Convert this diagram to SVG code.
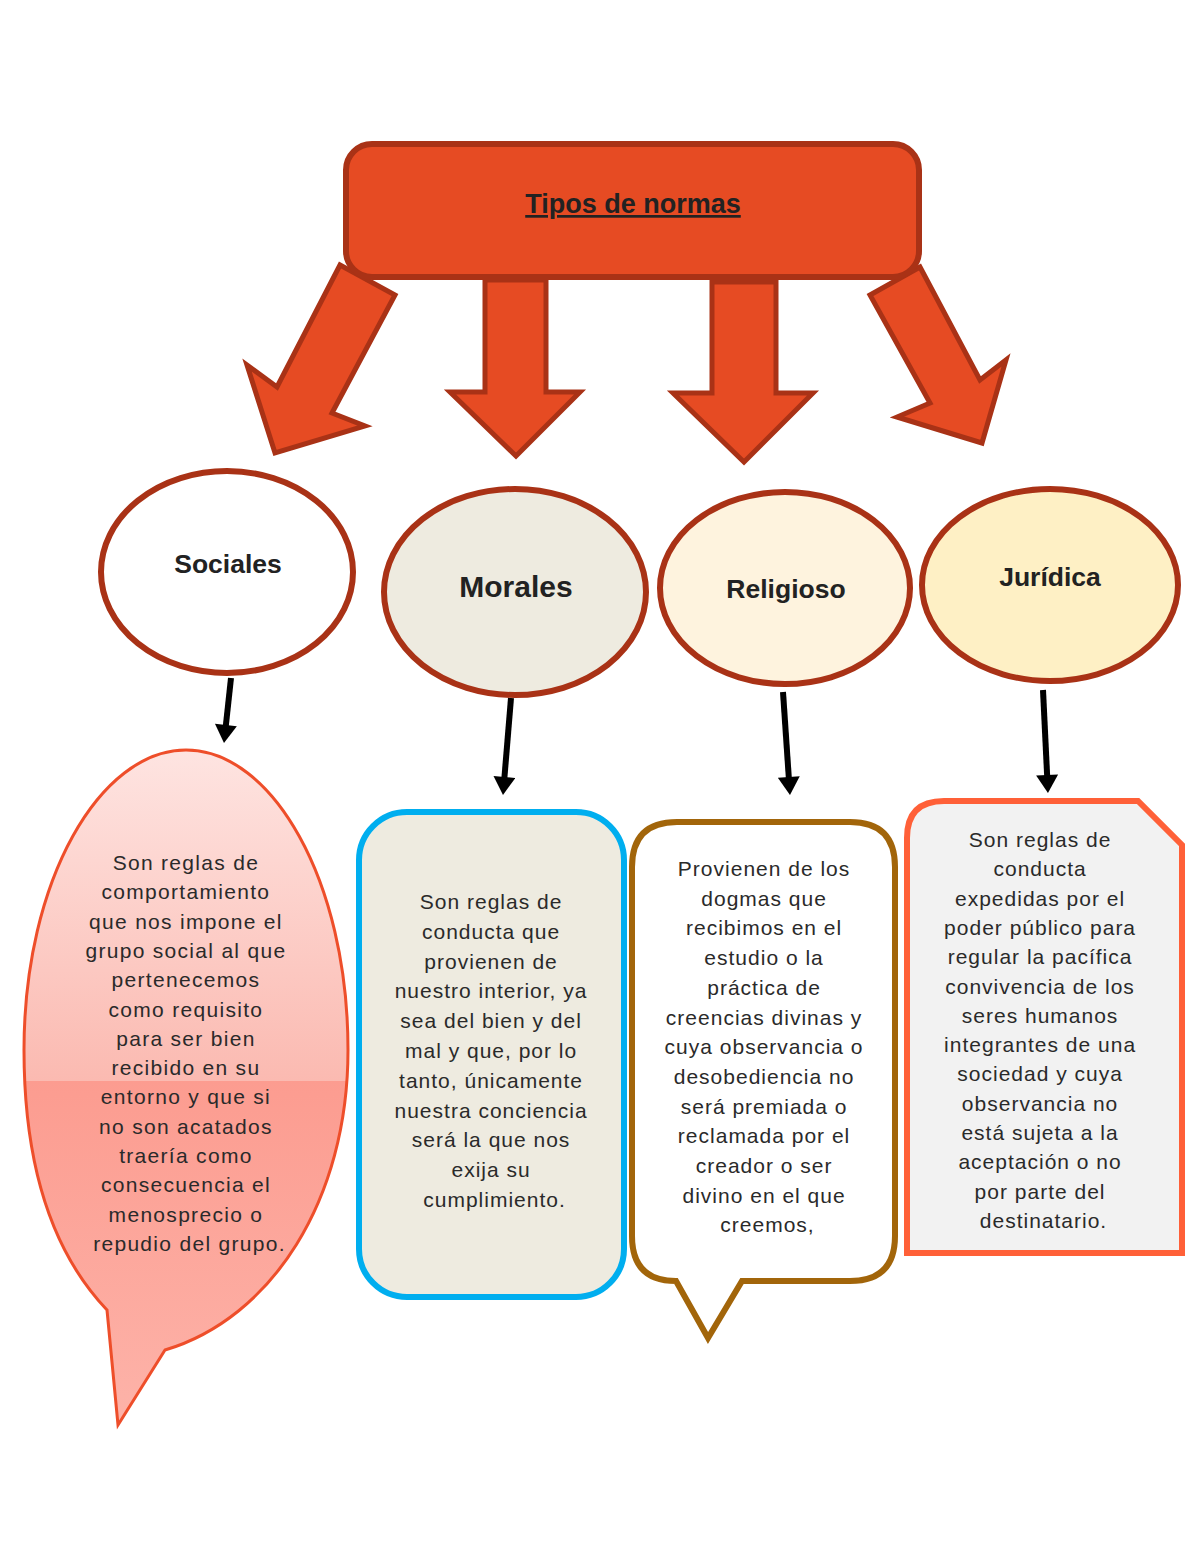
<svg xmlns="http://www.w3.org/2000/svg" width="1200" height="1553" viewBox="0 0 1200 1553">
<defs>
<style>
.blk{fill:#E64B23;stroke:#A93216;stroke-width:5;stroke-linejoin:miter}
.ell{stroke:#A93216;stroke-width:6}
.lab{font-family:"Liberation Sans",Arial,Helvetica,sans-serif;font-weight:bold;fill:#222;text-anchor:middle}
.body{font-family:"Liberation Sans",Arial,Helvetica,sans-serif;font-size:21px;fill:#2a2a2a;text-anchor:middle;letter-spacing:1px}
.con{stroke:#000;stroke-width:6;fill:none}
</style>
<marker id="ah" markerUnits="userSpaceOnUse" markerWidth="20" markerHeight="22" viewBox="0 0 18 22" refX="2" refY="11" orient="auto">
<path d="M0,0 L18,11 L0,22 Z" fill="#000"/>
</marker>
<linearGradient id="sg" gradientUnits="userSpaceOnUse" x1="0" y1="750" x2="0" y2="1425">
<stop offset="0" stop-color="#FEE4E1"/>
<stop offset="0.49" stop-color="#FBBAB1"/>
<stop offset="0.49" stop-color="#FC9C90"/>
<stop offset="1" stop-color="#FDB3A9"/>
</linearGradient>
</defs>
<rect width="1200" height="1553" fill="#fff"/>

<g id="connectors">
<polygon class="blk" points="340,265 395,295 332,413 365,426 275,453 247,365 277,387"/>
<polygon class="blk" points="485,280 546,280 546,392 580,392 516,456 450,392 485,392"/>
<polygon class="blk" points="712,282 776,282 776,393 813,393 744,462 673,393 712,393"/>
<polygon class="blk" points="920,267 870,295 930,403 897,417 982,443 1006,360 980,380"/>
<line class="con" x1="231" y1="678" x2="225.7" y2="727" marker-end="url(#ah)"/>
<line class="con" x1="511" y1="698" x2="504.3" y2="779" marker-end="url(#ah)"/>
<line class="con" x1="783" y1="692" x2="788.9" y2="779" marker-end="url(#ah)"/>
<line class="con" x1="1043" y1="690" x2="1047.2" y2="777" marker-end="url(#ah)"/>
</g>

<g id="tipos">
<rect x="346" y="144" width="573" height="133" rx="26" fill="#E64B23" stroke="#A93216" stroke-width="6"/>
<text x="633" y="213" class="lab" font-size="27" text-decoration="underline">Tipos de normas</text>
</g>

<g id="sociales">
<ellipse class="ell" cx="227" cy="572" rx="126" ry="101" fill="#fff"/>
<text x="228" y="573" class="lab" font-size="26.5">Sociales</text>
</g>
<g id="morales">
<ellipse class="ell" cx="515" cy="592" rx="131" ry="103" fill="#EEEBE0"/>
<text x="516" y="597" class="lab" font-size="30">Morales</text>
</g>
<g id="religioso">
<ellipse class="ell" cx="785" cy="588" rx="125" ry="96" fill="#FEF3DE"/>
<text x="786" y="598" class="lab" font-size="26.5">Religioso</text>
</g>
<g id="juridica">
<ellipse class="ell" cx="1050" cy="585" rx="128" ry="96" fill="#FEF0C5"/>
<text x="1050" y="586" class="lab" font-size="26.5">Jurídica</text>
</g>

<g id="sociales-desc">
<path d="M107,1310 C50,1250 24,1160 24,1050 C24,880 100,750 186,750 C272,750 348,880 348,1050 C348,1200 272,1318 165,1350 L118,1425 Z" fill="url(#sg)" stroke="#EE4E2A" stroke-width="3" stroke-linejoin="miter"/>
<text class="body" x="189.5" y="870" style="letter-spacing:1.3px">
<tspan x="189.5">Son reglas de</tspan>
<tspan x="189.5" dy="29.3">comportamiento</tspan>
<tspan x="189.5" dy="29.3">que nos impone el</tspan>
<tspan x="189.5" dy="29.3">grupo social al que</tspan>
<tspan x="189.5" dy="29.3">pertenecemos</tspan>
<tspan x="189.5" dy="29.3">como requisito</tspan>
<tspan x="189.5" dy="29.3">para ser bien</tspan>
<tspan x="189.5" dy="29.3">recibido en su</tspan>
<tspan x="189.5" dy="29.3">entorno y que si</tspan>
<tspan x="189.5" dy="29.3">no son acatados</tspan>
<tspan x="189.5" dy="29.3">traería como</tspan>
<tspan x="189.5" dy="29.3">consecuencia el</tspan>
<tspan x="189.5" dy="29.3">menosprecio o</tspan>
<tspan x="189.5" dy="29.3">repudio del grupo.</tspan>
</text>
</g>

<g id="morales-desc">
<rect x="359" y="812" width="265" height="485" rx="48" fill="#EEEBE0" stroke="#00AEEF" stroke-width="6"/>
<text class="body" x="494.5" y="909">
<tspan x="494.5">Son reglas de</tspan>
<tspan x="494.5" dy="29.8">conducta que</tspan>
<tspan x="494.5" dy="29.8">provienen de</tspan>
<tspan x="494.5" dy="29.8">nuestro interior, ya</tspan>
<tspan x="494.5" dy="29.8">sea del bien y del</tspan>
<tspan x="494.5" dy="29.8">mal y que, por lo</tspan>
<tspan x="494.5" dy="29.8">tanto, únicamente</tspan>
<tspan x="494.5" dy="29.8">nuestra conciencia</tspan>
<tspan x="494.5" dy="29.8">será la que nos</tspan>
<tspan x="494.5" dy="29.8">exija su</tspan>
<tspan x="494.5" dy="29.8">cumplimiento.</tspan>
</text>
</g>

<g id="religioso-desc">
<path d="M677,822 L850,822 Q895,822 895,867 L895,1236 Q895,1281 850,1281 L742,1281 L708,1338 L676,1281 Q632,1281 632,1236 L632,867 Q632,822 677,822 Z" fill="#fff" stroke="#A2650A" stroke-width="6" stroke-linejoin="miter"/>
<text class="body" x="767.5" y="876">
<tspan x="767.5">Provienen de los</tspan>
<tspan x="767.5" dy="29.7">dogmas que</tspan>
<tspan x="767.5" dy="29.7">recibimos en el</tspan>
<tspan x="767.5" dy="29.7">estudio o la</tspan>
<tspan x="767.5" dy="29.7">práctica de</tspan>
<tspan x="767.5" dy="29.7">creencias divinas y</tspan>
<tspan x="767.5" dy="29.7">cuya observancia o</tspan>
<tspan x="767.5" dy="29.7">desobediencia no</tspan>
<tspan x="767.5" dy="29.7">será premiada o</tspan>
<tspan x="767.5" dy="29.7">reclamada por el</tspan>
<tspan x="767.5" dy="29.7">creador o ser</tspan>
<tspan x="767.5" dy="29.7">divino en el que</tspan>
<tspan x="767.5" dy="29.7">creemos,</tspan>
</text>
</g>

<g id="juridica-desc">
<path d="M907,838 Q907,801 944,801 L1138,801 L1182,845 L1182,1253 L907,1253 Z" fill="#F2F2F2" stroke="#FF6038" stroke-width="6" stroke-linejoin="miter"/>
<text class="body" x="1043.5" y="847">
<tspan x="1043.5">Son reglas de</tspan>
<tspan x="1043.5" dy="29.3">conducta</tspan>
<tspan x="1043.5" dy="29.3">expedidas por el</tspan>
<tspan x="1043.5" dy="29.3">poder público para</tspan>
<tspan x="1043.5" dy="29.3">regular la pacífica</tspan>
<tspan x="1043.5" dy="29.3">convivencia de los</tspan>
<tspan x="1043.5" dy="29.3">seres humanos</tspan>
<tspan x="1043.5" dy="29.3">integrantes de una</tspan>
<tspan x="1043.5" dy="29.3">sociedad y cuya</tspan>
<tspan x="1043.5" dy="29.3">observancia no</tspan>
<tspan x="1043.5" dy="29.3">está sujeta a la</tspan>
<tspan x="1043.5" dy="29.3">aceptación o no</tspan>
<tspan x="1043.5" dy="29.3">por parte del</tspan>
<tspan x="1043.5" dy="29.3">destinatario.</tspan>
</text>
</g>
</svg>
